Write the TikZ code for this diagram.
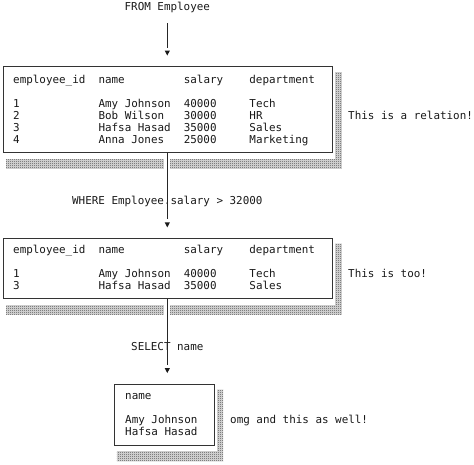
\documentclass[tikz,border=0pt]{standalone}
\usepackage{fontspec}
\usepackage{array}
\newfontfamily\dmono{DejaVu Sans Mono}
\usetikzlibrary{calc,backgrounds,patterns.meta}
\newlength\chw
\setlength\chw{6.5623pt}
\newcommand\tabfont{\dmono\fontsize{10.9}{12}\selectfont}
\pgfdeclarepattern{
  name=finecheck,
  type=uncolored,
  bottom left={\pgfpointorigin},
  top right={\pgfpoint{2pt}{2pt}},
  tile size={\pgfpoint{2pt}{2pt}},
  code={\pgfpathrectangle{\pgfpointorigin}{\pgfpoint{1pt}{1pt}}
        \pgfpathrectangle{\pgfpoint{1pt}{1pt}}{\pgfpoint{1pt}{1pt}}
        \pgfusepath{fill}}
}
\begin{document}
\begin{tikzpicture}[x=1pt,y=-1pt,
  box/.style={draw=black!80,line width=0.9pt,rectangle,inner sep=0pt},
  conn/.style={draw=black!85,line width=0.9pt},
  txt/.style={inner sep=0pt,font=\tabfont,text=black!90},
  shadowfill/.style={preaction={fill=black!12},pattern=finecheck,pattern color=black!70},
  ahead/.style={fill=black!90}]
\useasboundingbox (0,0) rectangle (474,464);
% labels on the flow
\node[txt,anchor=base] (from) at (167.3,10) {FROM Employee};
\node[txt,anchor=base] (where) at (167.3,204.2) {WHERE Employee.salary > 32000};
\node[txt,anchor=base] (select) at (167.3,350.7) {SELECT name};
% boxes
\node[box,minimum width=329pt,minimum height=86pt] (r1) at (168,109.5) {};
\node[box,minimum width=329pt,minimum height=60pt] (r2) at (168,268.3) {};
\node[box,minimum width=99.7pt,minimum height=61pt] (r3) at (164.15,414.5) {};
% tables
\node[txt,anchor=base west] (t1) at (13,83.3) {\begin{tabular}[t]{@{}p{13\chw}@{}p{13\chw}@{}p{10\chw}@{}l@{}}
employee\_id & name & salary & department\\
 & & & \\
1 & Amy Johnson & 40000 & Tech\\
2 & Bob Wilson & 30000 & HR\\
3 & Hafsa Hasad & 35000 & Sales\\
4 & Anna Jones & 25000 & Marketing
\end{tabular}};
\node[txt,anchor=base west] (t2) at (13,253.7) {\begin{tabular}[t]{@{}p{13\chw}@{}p{13\chw}@{}p{10\chw}@{}l@{}}
employee\_id & name & salary & department\\
 & & & \\
1 & Amy Johnson & 40000 & Tech\\
3 & Hafsa Hasad & 35000 & Sales
\end{tabular}};
\node[txt,anchor=base west] (t3) at (125,399.5) {\begin{tabular}[t]{@{}l@{}}
name\\
\\
Amy Johnson\\
Hafsa Hasad
\end{tabular}};
% side notes
\node[txt,anchor=base west] (n1) at (348,119.3) {This is a relation!};
\node[txt,anchor=base west] (n2) at (348,277.7) {This is too!};
\node[txt,anchor=base west] (n3) at (230,423.5) {omg and this as well!};
% shadows
\begin{pgfonlayer}{background}
\foreach \b in {r1,r2,r3}{
  \fill[shadowfill] ($(\b.north west)+(3,6)$) rectangle ($(\b.south east)+(9,16)$);
  \fill[white] ($(\b.north west)+(-2,-2)$) rectangle ($(\b.south east)+(2.5,6)$);
}
\fill[white] ($(where |- r1.south)+(-3,0)$) rectangle ($(where |- r1.south)+(3,20)$);
\fill[white] ($(select |- r2.south)+(-3,0)$) rectangle ($(select |- r2.south)+(3,20)$);
\end{pgfonlayer}
% connectors
\draw[conn] ([yshift=-13pt]from.base) -- ($(from |- r1.north)+(0,-18.5)$);
\fill[ahead] ($(from |- r1.north)+(-2.6,-15.5)$) -- ($(from |- r1.north)+(2.6,-15.5)$) -- ($(from |- r1.north)+(0,-10.5)$) -- cycle;
\draw[conn] (where |- r1.south) -- ($(where |- r2.north)+(0,-19)$);
\fill[ahead] ($(where |- r2.north)+(-2.6,-15.5)$) -- ($(where |- r2.north)+(2.6,-15.5)$) -- ($(where |- r2.north)+(0,-10.5)$) -- cycle;
\draw[conn] (select |- r2.south) -- ($(select |- r3.north)+(0,-19)$);
\fill[ahead] ($(select |- r3.north)+(-2.6,-15.5)$) -- ($(select |- r3.north)+(2.6,-15.5)$) -- ($(select |- r3.north)+(0,-10.5)$) -- cycle;
\end{tikzpicture}
\end{document}
